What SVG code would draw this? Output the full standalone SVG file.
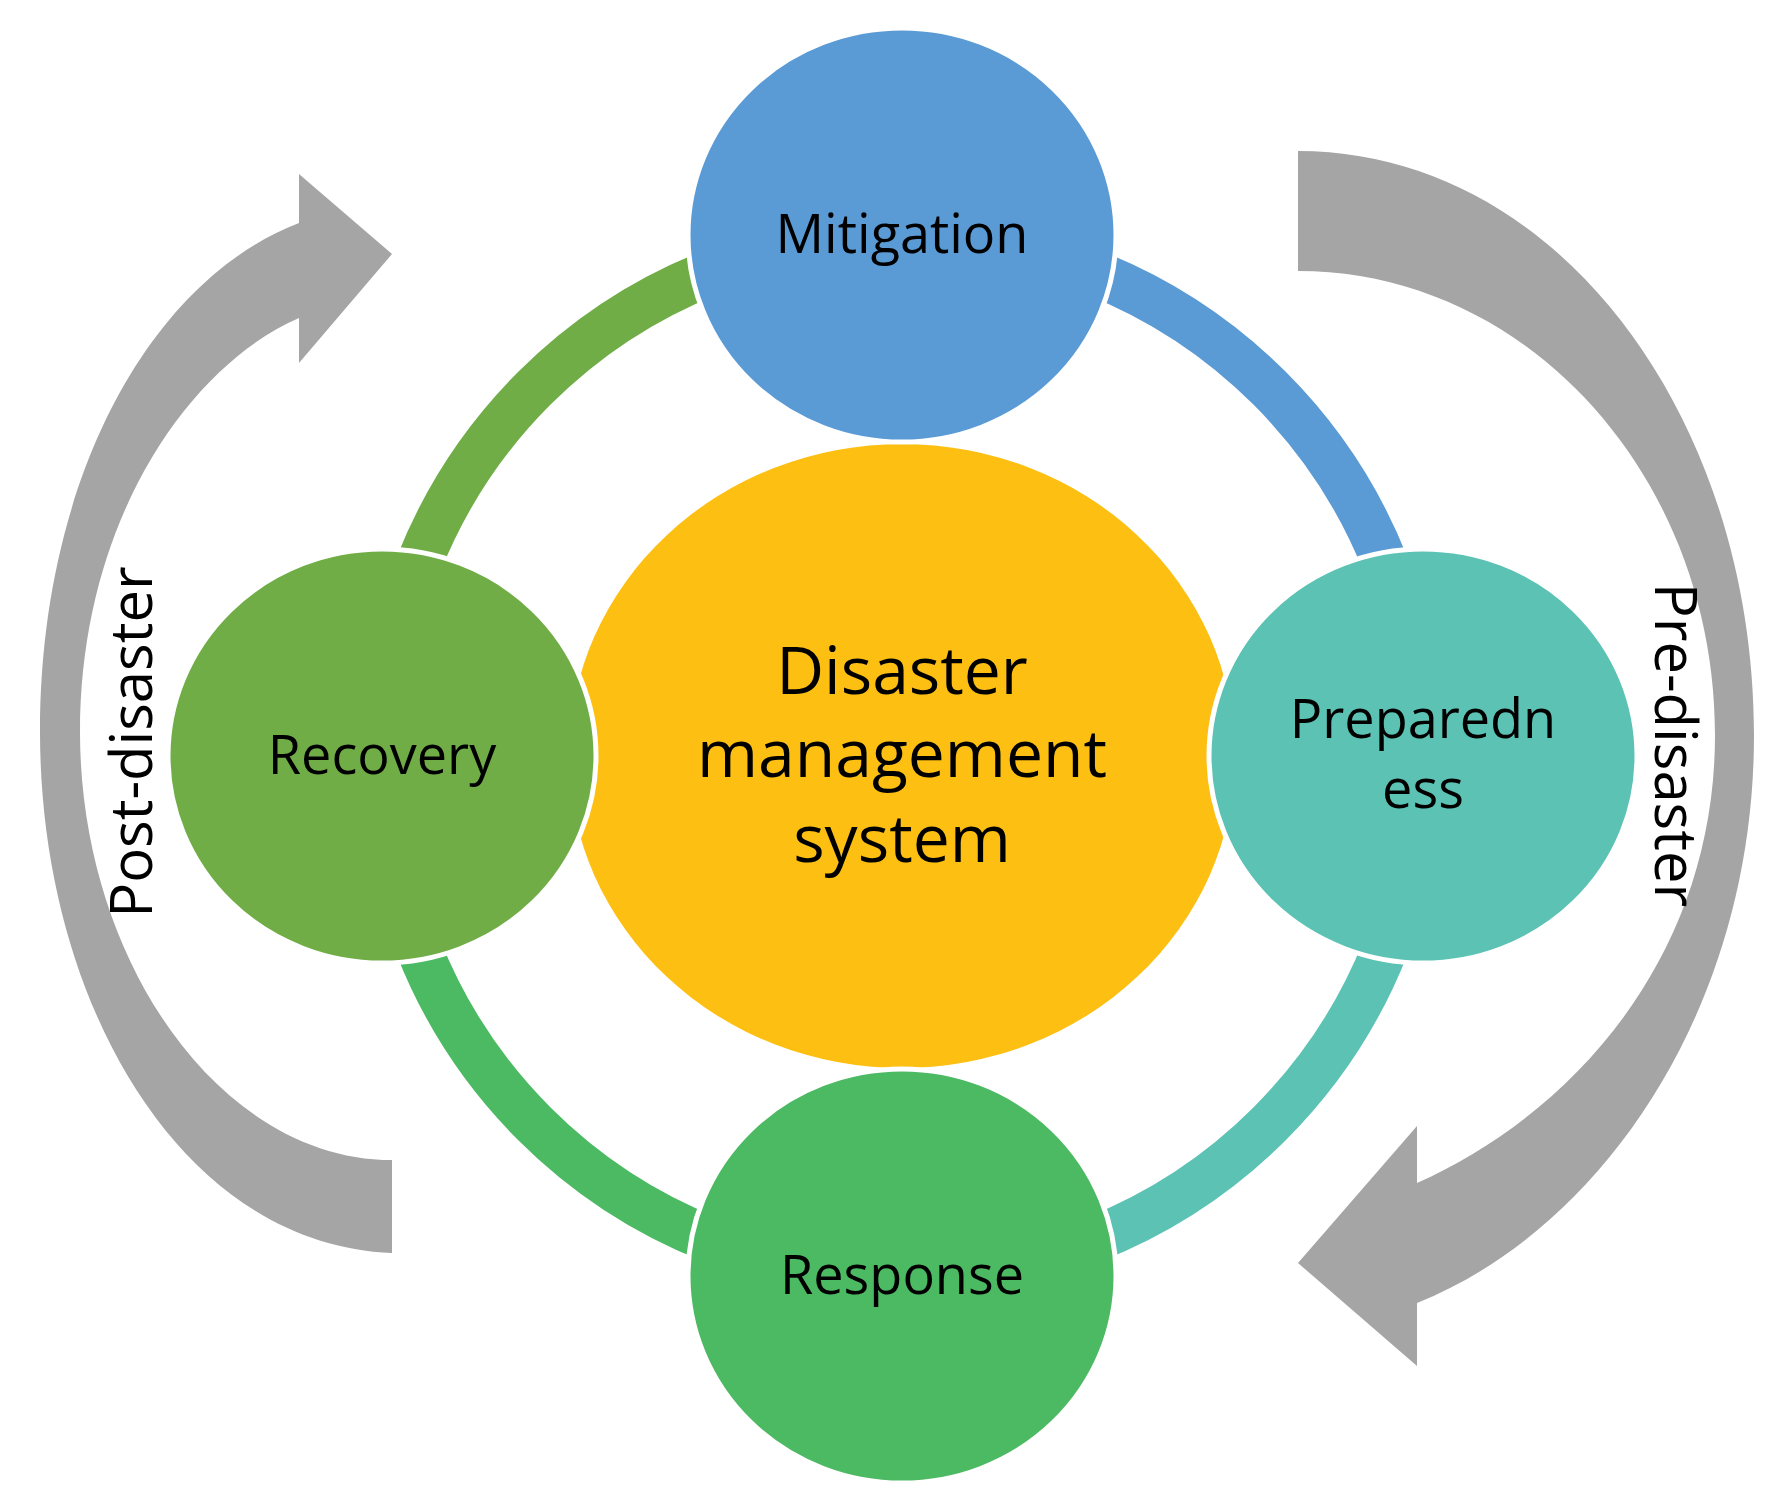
<svg xmlns="http://www.w3.org/2000/svg" width="1783" height="1505" viewBox="0 0 1783 1505">
<style>
text{font-family:"Open Sans","Noto Sans",sans-serif;fill:#000;text-anchor:middle}
.n{stroke:#fff;stroke-width:5}
.arc{fill:none;stroke-width:46}
</style>
<rect width="1783" height="1505" fill="#fff"/>
<g id="connectors">
<path d="M392,1253 C180,1245 40,1000 40,732 C40,480 150,280 299,223 L299,174 L392,254 L299,363 L299,318 C190,365 80,520 80,732 C80,960 220,1160 392,1160 Z" fill="#A5A5A5"/>
<path d="M1298,151 C1560,151 1754,420 1754,735 C1754,1010 1600,1230 1417,1303 L1417,1366 L1298,1263 L1417,1126 L1417,1183 C1580,1110 1715,950 1715,735 C1715,480 1530,271 1298,271 Z" fill="#A5A5A5"/>
<path class="arc" stroke="#70AD47" d="M382,756 A520,520 0 0 1 902,236"/>
<path class="arc" stroke="#5B9BD5" d="M902,236 A520,520 0 0 1 1422,756"/>
<path class="arc" stroke="#5BC2B4" d="M1422,756 A520,520 0 0 1 902,1276"/>
<path class="arc" stroke="#4CB963" d="M902,1276 A520,520 0 0 1 382,756"/>
</g>
<g id="center"><ellipse cx="902" cy="756" rx="333" ry="312" fill="#FCBF12"/>
<text font-size="66" x="902" y="694">Disaster</text><text font-size="66" x="902" y="777">management</text><text font-size="66" x="902" y="862">system</text></g>
<g id="mitigation"><ellipse class="n" cx="902" cy="235" rx="214" ry="207" fill="#5B9BD5"/><text font-size="54" x="902" y="253">Mitigation</text></g>
<g id="recovery"><ellipse class="n" cx="382" cy="756" rx="214" ry="207" fill="#70AD47"/><text font-size="54" x="382" y="774">Recovery</text></g>
<g id="preparedness"><ellipse class="n" cx="1423" cy="756" rx="214" ry="207" fill="#5BC2B4"/><text font-size="54" x="1423" y="738">Preparedn</text><text font-size="54" x="1423" y="808">ess</text></g>
<g id="response"><ellipse class="n" cx="902" cy="1276" rx="214" ry="207" fill="#4CB963"/><text font-size="54" x="902" y="1294">Response</text></g>
<g id="labels">
<text font-size="58" transform="translate(152,742) rotate(-90)">Post-disaster</text>
<text font-size="58" transform="translate(1655,745) rotate(90)">Pre-disaster</text>
</g>
</svg>
